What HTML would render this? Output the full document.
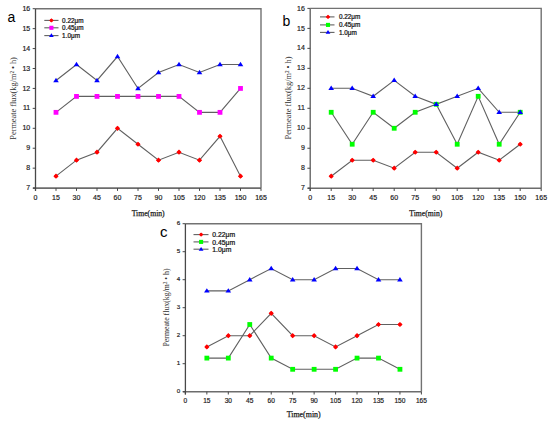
<!DOCTYPE html><html><head><meta charset="utf-8"><style>html,body{margin:0;padding:0;background:#fff;overflow:hidden;width:550px;height:422px;}svg{display:block;}</style></head><body>
<svg width="550" height="422" viewBox="0 0 550 422">
<rect width="550" height="422" fill="#fff"/>
<g font-family='"Liberation Sans", sans-serif' fill="#1a1a1a" stroke-width="0"><path d="M35.5 8.7H261V188.1" fill="none" stroke="#727272" stroke-width="1.4"/><path d="M33 188.1H261" stroke="#6c6c6c" stroke-width="1.6"/><path d="M35.5 8.7V190.9" stroke="#484848" stroke-width="1.3"/><path d="M35.5 188.1V190.9" stroke="#484848" stroke-width="1"/><path d="M56 188.1V190.9" stroke="#484848" stroke-width="1"/><path d="M76.5 188.1V190.9" stroke="#484848" stroke-width="1"/><path d="M97 188.1V190.9" stroke="#484848" stroke-width="1"/><path d="M117.5 188.1V190.9" stroke="#484848" stroke-width="1"/><path d="M138 188.1V190.9" stroke="#484848" stroke-width="1"/><path d="M158.5 188.1V190.9" stroke="#484848" stroke-width="1"/><path d="M179 188.1V190.9" stroke="#484848" stroke-width="1"/><path d="M199.5 188.1V190.9" stroke="#484848" stroke-width="1"/><path d="M220 188.1V190.9" stroke="#484848" stroke-width="1"/><path d="M240.5 188.1V190.9" stroke="#484848" stroke-width="1"/><path d="M261 188.1V190.9" stroke="#484848" stroke-width="1"/><path d="M32.7 188.1H35.5" stroke="#484848" stroke-width="1"/><path d="M32.7 168.17H35.5" stroke="#484848" stroke-width="1"/><path d="M32.7 148.23H35.5" stroke="#484848" stroke-width="1"/><path d="M32.7 128.3H35.5" stroke="#484848" stroke-width="1"/><path d="M32.7 108.37H35.5" stroke="#484848" stroke-width="1"/><path d="M32.7 88.43H35.5" stroke="#484848" stroke-width="1"/><path d="M32.7 68.5H35.5" stroke="#484848" stroke-width="1"/><path d="M32.7 48.57H35.5" stroke="#484848" stroke-width="1"/><path d="M32.7 28.63H35.5" stroke="#484848" stroke-width="1"/><path d="M32.7 8.7H35.5" stroke="#484848" stroke-width="1"/><text x="35.5" y="200.02" text-anchor="middle" font-size="7" stroke="#1a1a1a" stroke-width="0.18">0</text><text x="56" y="200.02" text-anchor="middle" font-size="7" stroke="#1a1a1a" stroke-width="0.18">15</text><text x="76.5" y="200.02" text-anchor="middle" font-size="7" stroke="#1a1a1a" stroke-width="0.18">30</text><text x="97" y="200.02" text-anchor="middle" font-size="7" stroke="#1a1a1a" stroke-width="0.18">45</text><text x="117.5" y="200.02" text-anchor="middle" font-size="7" stroke="#1a1a1a" stroke-width="0.18">60</text><text x="138" y="200.02" text-anchor="middle" font-size="7" stroke="#1a1a1a" stroke-width="0.18">75</text><text x="158.5" y="200.02" text-anchor="middle" font-size="7" stroke="#1a1a1a" stroke-width="0.18">90</text><text x="179" y="200.02" text-anchor="middle" font-size="7" stroke="#1a1a1a" stroke-width="0.18">105</text><text x="199.5" y="200.02" text-anchor="middle" font-size="7" stroke="#1a1a1a" stroke-width="0.18">120</text><text x="220" y="200.02" text-anchor="middle" font-size="7" stroke="#1a1a1a" stroke-width="0.18">135</text><text x="240.5" y="200.02" text-anchor="middle" font-size="7" stroke="#1a1a1a" stroke-width="0.18">150</text><text x="261" y="200.02" text-anchor="middle" font-size="7" stroke="#1a1a1a" stroke-width="0.18">165</text><text x="30.2" y="190.22" text-anchor="end" font-size="7" stroke="#1a1a1a" stroke-width="0.18">7</text><text x="30.2" y="170.29" text-anchor="end" font-size="7" stroke="#1a1a1a" stroke-width="0.18">8</text><text x="30.2" y="150.35" text-anchor="end" font-size="7" stroke="#1a1a1a" stroke-width="0.18">9</text><text x="30.2" y="130.42" text-anchor="end" font-size="7" stroke="#1a1a1a" stroke-width="0.18">10</text><text x="30.2" y="110.49" text-anchor="end" font-size="7" stroke="#1a1a1a" stroke-width="0.18">11</text><text x="30.2" y="90.55" text-anchor="end" font-size="7" stroke="#1a1a1a" stroke-width="0.18">12</text><text x="30.2" y="70.62" text-anchor="end" font-size="7" stroke="#1a1a1a" stroke-width="0.18">13</text><text x="30.2" y="50.69" text-anchor="end" font-size="7" stroke="#1a1a1a" stroke-width="0.18">14</text><text x="30.2" y="30.75" text-anchor="end" font-size="7" stroke="#1a1a1a" stroke-width="0.18">15</text><text x="30.2" y="10.82" text-anchor="end" font-size="7" stroke="#1a1a1a" stroke-width="0.18">16</text><polyline points="56,176.14 76.5,160.19 97,152.22 117.5,128.3 138,144.25 158.5,160.19 179,152.22 199.5,160.19 220,136.27 240.5,176.14" fill="none" stroke="#606060" stroke-width="1.1"/><polyline points="56,112.35 76.5,96.41 97,96.41 117.5,96.41 138,96.41 158.5,96.41 179,96.41 199.5,112.35 220,112.35 240.5,88.43" fill="none" stroke="#606060" stroke-width="1.1"/><polyline points="56,80.46 76.5,64.51 97,80.46 117.5,56.54 138,88.43 158.5,72.49 179,64.51 199.5,72.49 220,64.51 240.5,64.51" fill="none" stroke="#606060" stroke-width="1.1"/><path d="M56 173.54L58.6 176.14L56 178.74L53.4 176.14Z" fill="#ff0000"/><circle cx="56" cy="176.14" r="1.7" fill="#ff0000"/><path d="M76.5 157.59L79.1 160.19L76.5 162.79L73.9 160.19Z" fill="#ff0000"/><circle cx="76.5" cy="160.19" r="1.7" fill="#ff0000"/><path d="M97 149.62L99.6 152.22L97 154.82L94.4 152.22Z" fill="#ff0000"/><circle cx="97" cy="152.22" r="1.7" fill="#ff0000"/><path d="M117.5 125.7L120.1 128.3L117.5 130.9L114.9 128.3Z" fill="#ff0000"/><circle cx="117.5" cy="128.3" r="1.7" fill="#ff0000"/><path d="M138 141.65L140.6 144.25L138 146.85L135.4 144.25Z" fill="#ff0000"/><circle cx="138" cy="144.25" r="1.7" fill="#ff0000"/><path d="M158.5 157.59L161.1 160.19L158.5 162.79L155.9 160.19Z" fill="#ff0000"/><circle cx="158.5" cy="160.19" r="1.7" fill="#ff0000"/><path d="M179 149.62L181.6 152.22L179 154.82L176.4 152.22Z" fill="#ff0000"/><circle cx="179" cy="152.22" r="1.7" fill="#ff0000"/><path d="M199.5 157.59L202.1 160.19L199.5 162.79L196.9 160.19Z" fill="#ff0000"/><circle cx="199.5" cy="160.19" r="1.7" fill="#ff0000"/><path d="M220 133.67L222.6 136.27L220 138.87L217.4 136.27Z" fill="#ff0000"/><circle cx="220" cy="136.27" r="1.7" fill="#ff0000"/><path d="M240.5 173.54L243.1 176.14L240.5 178.74L237.9 176.14Z" fill="#ff0000"/><circle cx="240.5" cy="176.14" r="1.7" fill="#ff0000"/><rect x="53.6" y="109.95" width="4.8" height="4.8" fill="#ff00ff"/><rect x="74.1" y="94.01" width="4.8" height="4.8" fill="#ff00ff"/><rect x="94.6" y="94.01" width="4.8" height="4.8" fill="#ff00ff"/><rect x="115.1" y="94.01" width="4.8" height="4.8" fill="#ff00ff"/><rect x="135.6" y="94.01" width="4.8" height="4.8" fill="#ff00ff"/><rect x="156.1" y="94.01" width="4.8" height="4.8" fill="#ff00ff"/><rect x="176.6" y="94.01" width="4.8" height="4.8" fill="#ff00ff"/><rect x="197.1" y="109.95" width="4.8" height="4.8" fill="#ff00ff"/><rect x="217.6" y="109.95" width="4.8" height="4.8" fill="#ff00ff"/><rect x="238.1" y="86.03" width="4.8" height="4.8" fill="#ff00ff"/><path d="M56 77.76L58.8 82.16L53.2 82.16Z" fill="#0000ff"/><path d="M76.5 61.81L79.3 66.21L73.7 66.21Z" fill="#0000ff"/><path d="M97 77.76L99.8 82.16L94.2 82.16Z" fill="#0000ff"/><path d="M117.5 53.84L120.3 58.24L114.7 58.24Z" fill="#0000ff"/><path d="M138 85.73L140.8 90.13L135.2 90.13Z" fill="#0000ff"/><path d="M158.5 69.79L161.3 74.19L155.7 74.19Z" fill="#0000ff"/><path d="M179 61.81L181.8 66.21L176.2 66.21Z" fill="#0000ff"/><path d="M199.5 69.79L202.3 74.19L196.7 74.19Z" fill="#0000ff"/><path d="M220 61.81L222.8 66.21L217.2 66.21Z" fill="#0000ff"/><path d="M240.5 61.81L243.3 66.21L237.7 66.21Z" fill="#0000ff"/><path d="M44.3 20.4H58.5" stroke="#606060" stroke-width="1.1"/><path d="M51.4 18.19L53.61 20.4L51.4 22.61L49.19 20.4Z" fill="#ff0000"/><circle cx="51.4" cy="20.4" r="1.44" fill="#ff0000"/><text x="62.1" y="22.7" font-size="6.4" fill="#101010" stroke="#101010" stroke-width="0.22">0.22μm</text><path d="M44.3 27.8H58.5" stroke="#606060" stroke-width="1.1"/><rect x="49.36" y="25.76" width="4.08" height="4.08" fill="#ff00ff"/><text x="62.1" y="30.1" font-size="6.4" fill="#101010" stroke="#101010" stroke-width="0.22">0.45μm</text><path d="M44.3 35.6H58.5" stroke="#606060" stroke-width="1.1"/><path d="M51.4 33.3L53.78 37.05L49.02 37.05Z" fill="#0000ff"/><text x="62.1" y="37.9" font-size="6.4" fill="#101010" stroke="#101010" stroke-width="0.22">1.0μm</text><text x="7.6" y="21.5" font-size="14" fill="#000">a</text><text x="148.2" y="216" text-anchor="middle" font-family='"Liberation Serif", serif' font-size="8.2" stroke="#1a1a1a" stroke-width="0.25" textLength="33" lengthAdjust="spacingAndGlyphs">Time(min)</text><text transform="translate(13.6 98.4) rotate(-90)" text-anchor="middle" font-family='"Liberation Serif", serif' font-size="7.9" textLength="82.5" lengthAdjust="spacingAndGlyphs" y="2.61" fill="#303030">Permeate flux(kg/m² • h)</text></g>
<g font-family='"Liberation Sans", sans-serif' fill="#1a1a1a" stroke-width="0"><path d="M310.2 8.4H541.2V188.2" fill="none" stroke="#727272" stroke-width="1.4"/><path d="M307.7 188.2H541.2" stroke="#6c6c6c" stroke-width="1.6"/><path d="M310.2 8.4V191" stroke="#5c5c5c" stroke-width="1.3"/><path d="M310.2 188.2V191" stroke="#484848" stroke-width="1"/><path d="M331.2 188.2V191" stroke="#484848" stroke-width="1"/><path d="M352.2 188.2V191" stroke="#484848" stroke-width="1"/><path d="M373.2 188.2V191" stroke="#484848" stroke-width="1"/><path d="M394.2 188.2V191" stroke="#484848" stroke-width="1"/><path d="M415.2 188.2V191" stroke="#484848" stroke-width="1"/><path d="M436.2 188.2V191" stroke="#484848" stroke-width="1"/><path d="M457.2 188.2V191" stroke="#484848" stroke-width="1"/><path d="M478.2 188.2V191" stroke="#484848" stroke-width="1"/><path d="M499.2 188.2V191" stroke="#484848" stroke-width="1"/><path d="M520.2 188.2V191" stroke="#484848" stroke-width="1"/><path d="M541.2 188.2V191" stroke="#484848" stroke-width="1"/><path d="M307.4 188.2H310.2" stroke="#484848" stroke-width="1"/><path d="M307.4 168.22H310.2" stroke="#484848" stroke-width="1"/><path d="M307.4 148.24H310.2" stroke="#484848" stroke-width="1"/><path d="M307.4 128.27H310.2" stroke="#484848" stroke-width="1"/><path d="M307.4 108.29H310.2" stroke="#484848" stroke-width="1"/><path d="M307.4 88.31H310.2" stroke="#484848" stroke-width="1"/><path d="M307.4 68.33H310.2" stroke="#484848" stroke-width="1"/><path d="M307.4 48.36H310.2" stroke="#484848" stroke-width="1"/><path d="M307.4 28.38H310.2" stroke="#484848" stroke-width="1"/><path d="M307.4 8.4H310.2" stroke="#484848" stroke-width="1"/><text x="310.2" y="200.22" text-anchor="middle" font-size="7" stroke="#1a1a1a" stroke-width="0.18">0</text><text x="331.2" y="200.22" text-anchor="middle" font-size="7" stroke="#1a1a1a" stroke-width="0.18">15</text><text x="352.2" y="200.22" text-anchor="middle" font-size="7" stroke="#1a1a1a" stroke-width="0.18">30</text><text x="373.2" y="200.22" text-anchor="middle" font-size="7" stroke="#1a1a1a" stroke-width="0.18">45</text><text x="394.2" y="200.22" text-anchor="middle" font-size="7" stroke="#1a1a1a" stroke-width="0.18">60</text><text x="415.2" y="200.22" text-anchor="middle" font-size="7" stroke="#1a1a1a" stroke-width="0.18">75</text><text x="436.2" y="200.22" text-anchor="middle" font-size="7" stroke="#1a1a1a" stroke-width="0.18">90</text><text x="457.2" y="200.22" text-anchor="middle" font-size="7" stroke="#1a1a1a" stroke-width="0.18">105</text><text x="478.2" y="200.22" text-anchor="middle" font-size="7" stroke="#1a1a1a" stroke-width="0.18">120</text><text x="499.2" y="200.22" text-anchor="middle" font-size="7" stroke="#1a1a1a" stroke-width="0.18">135</text><text x="520.2" y="200.22" text-anchor="middle" font-size="7" stroke="#1a1a1a" stroke-width="0.18">150</text><text x="541.2" y="200.22" text-anchor="middle" font-size="7" stroke="#1a1a1a" stroke-width="0.18">165</text><text x="304.9" y="190.32" text-anchor="end" font-size="7" stroke="#1a1a1a" stroke-width="0.18">7</text><text x="304.9" y="170.34" text-anchor="end" font-size="7" stroke="#1a1a1a" stroke-width="0.18">8</text><text x="304.9" y="150.36" text-anchor="end" font-size="7" stroke="#1a1a1a" stroke-width="0.18">9</text><text x="304.9" y="130.39" text-anchor="end" font-size="7" stroke="#1a1a1a" stroke-width="0.18">10</text><text x="304.9" y="110.41" text-anchor="end" font-size="7" stroke="#1a1a1a" stroke-width="0.18">11</text><text x="304.9" y="90.43" text-anchor="end" font-size="7" stroke="#1a1a1a" stroke-width="0.18">12</text><text x="304.9" y="70.45" text-anchor="end" font-size="7" stroke="#1a1a1a" stroke-width="0.18">13</text><text x="304.9" y="50.48" text-anchor="end" font-size="7" stroke="#1a1a1a" stroke-width="0.18">14</text><text x="304.9" y="30.5" text-anchor="end" font-size="7" stroke="#1a1a1a" stroke-width="0.18">15</text><text x="304.9" y="10.52" text-anchor="end" font-size="7" stroke="#1a1a1a" stroke-width="0.18">16</text><polyline points="331.2,176.21 352.2,160.23 373.2,160.23 394.2,168.22 415.2,152.24 436.2,152.24 457.2,168.22 478.2,152.24 499.2,160.23 520.2,144.25" fill="none" stroke="#606060" stroke-width="1.1"/><polyline points="331.2,112.28 352.2,144.25 373.2,112.28 394.2,128.27 415.2,112.28 436.2,104.29 457.2,144.25 478.2,96.3 499.2,144.25 520.2,112.28" fill="none" stroke="#606060" stroke-width="1.1"/><polyline points="331.2,88.31 352.2,88.31 373.2,96.3 394.2,80.32 415.2,96.3 436.2,104.29 457.2,96.3 478.2,88.31 499.2,112.28 520.2,112.28" fill="none" stroke="#606060" stroke-width="1.1"/><path d="M331.2 173.61L333.8 176.21L331.2 178.81L328.6 176.21Z" fill="#ff0000"/><circle cx="331.2" cy="176.21" r="1.7" fill="#ff0000"/><path d="M352.2 157.63L354.8 160.23L352.2 162.83L349.6 160.23Z" fill="#ff0000"/><circle cx="352.2" cy="160.23" r="1.7" fill="#ff0000"/><path d="M373.2 157.63L375.8 160.23L373.2 162.83L370.6 160.23Z" fill="#ff0000"/><circle cx="373.2" cy="160.23" r="1.7" fill="#ff0000"/><path d="M394.2 165.62L396.8 168.22L394.2 170.82L391.6 168.22Z" fill="#ff0000"/><circle cx="394.2" cy="168.22" r="1.7" fill="#ff0000"/><path d="M415.2 149.64L417.8 152.24L415.2 154.84L412.6 152.24Z" fill="#ff0000"/><circle cx="415.2" cy="152.24" r="1.7" fill="#ff0000"/><path d="M436.2 149.64L438.8 152.24L436.2 154.84L433.6 152.24Z" fill="#ff0000"/><circle cx="436.2" cy="152.24" r="1.7" fill="#ff0000"/><path d="M457.2 165.62L459.8 168.22L457.2 170.82L454.6 168.22Z" fill="#ff0000"/><circle cx="457.2" cy="168.22" r="1.7" fill="#ff0000"/><path d="M478.2 149.64L480.8 152.24L478.2 154.84L475.6 152.24Z" fill="#ff0000"/><circle cx="478.2" cy="152.24" r="1.7" fill="#ff0000"/><path d="M499.2 157.63L501.8 160.23L499.2 162.83L496.6 160.23Z" fill="#ff0000"/><circle cx="499.2" cy="160.23" r="1.7" fill="#ff0000"/><path d="M520.2 141.65L522.8 144.25L520.2 146.85L517.6 144.25Z" fill="#ff0000"/><circle cx="520.2" cy="144.25" r="1.7" fill="#ff0000"/><rect x="328.8" y="109.88" width="4.8" height="4.8" fill="#00ff00"/><rect x="349.8" y="141.85" width="4.8" height="4.8" fill="#00ff00"/><rect x="370.8" y="109.88" width="4.8" height="4.8" fill="#00ff00"/><rect x="391.8" y="125.87" width="4.8" height="4.8" fill="#00ff00"/><rect x="412.8" y="109.88" width="4.8" height="4.8" fill="#00ff00"/><rect x="433.8" y="101.89" width="4.8" height="4.8" fill="#00ff00"/><rect x="454.8" y="141.85" width="4.8" height="4.8" fill="#00ff00"/><rect x="475.8" y="93.9" width="4.8" height="4.8" fill="#00ff00"/><rect x="496.8" y="141.85" width="4.8" height="4.8" fill="#00ff00"/><rect x="517.8" y="109.88" width="4.8" height="4.8" fill="#00ff00"/><path d="M331.2 85.61L334 90.01L328.4 90.01Z" fill="#0000ff"/><path d="M352.2 85.61L355 90.01L349.4 90.01Z" fill="#0000ff"/><path d="M373.2 93.6L376 98L370.4 98Z" fill="#0000ff"/><path d="M394.2 77.62L397 82.02L391.4 82.02Z" fill="#0000ff"/><path d="M415.2 93.6L418 98L412.4 98Z" fill="#0000ff"/><path d="M436.2 101.59L439 105.99L433.4 105.99Z" fill="#0000ff"/><path d="M457.2 93.6L460 98L454.4 98Z" fill="#0000ff"/><path d="M478.2 85.61L481 90.01L475.4 90.01Z" fill="#0000ff"/><path d="M499.2 109.58L502 113.98L496.4 113.98Z" fill="#0000ff"/><path d="M520.2 109.58L523 113.98L517.4 113.98Z" fill="#0000ff"/><path d="M320 16.9H334.5" stroke="#606060" stroke-width="1.1"/><path d="M328 14.69L330.21 16.9L328 19.11L325.79 16.9Z" fill="#ff0000"/><circle cx="328" cy="16.9" r="1.44" fill="#ff0000"/><text x="338.9" y="19.2" font-size="6.4" fill="#101010" stroke="#101010" stroke-width="0.22">0.22μm</text><path d="M320 24.9H334.5" stroke="#606060" stroke-width="1.1"/><rect x="325.96" y="22.86" width="4.08" height="4.08" fill="#00ff00"/><text x="338.9" y="27.2" font-size="6.4" fill="#101010" stroke="#101010" stroke-width="0.22">0.45μm</text><path d="M320 32.4H334.5" stroke="#606060" stroke-width="1.1"/><path d="M328 30.1L330.38 33.84L325.62 33.84Z" fill="#0000ff"/><text x="338.9" y="34.7" font-size="6.4" fill="#101010" stroke="#101010" stroke-width="0.22">1.0μm</text><text x="282.6" y="25.6" font-size="14" fill="#000">b</text><text x="425.8" y="216" text-anchor="middle" font-family='"Liberation Serif", serif' font-size="8.2" stroke="#1a1a1a" stroke-width="0.25" textLength="33" lengthAdjust="spacingAndGlyphs">Time(min)</text><text transform="translate(288.3 98) rotate(-90)" text-anchor="middle" font-family='"Liberation Serif", serif' font-size="7.9" textLength="83" lengthAdjust="spacingAndGlyphs" y="2.61" fill="#303030">Permeate flux(kg/m² • h)</text></g>
<g font-family='"Liberation Sans", sans-serif' fill="#1a1a1a" stroke-width="0"><path d="M185.4 223.7H421.4V391.7" fill="none" stroke="#727272" stroke-width="1.4"/><path d="M182.9 391.7H421.4" stroke="#6c6c6c" stroke-width="1.6"/><path d="M185.4 223.7V394.5" stroke="#484848" stroke-width="1.3"/><path d="M185.4 391.7V394.5" stroke="#484848" stroke-width="1"/><path d="M206.85 391.7V394.5" stroke="#484848" stroke-width="1"/><path d="M228.31 391.7V394.5" stroke="#484848" stroke-width="1"/><path d="M249.76 391.7V394.5" stroke="#484848" stroke-width="1"/><path d="M271.22 391.7V394.5" stroke="#484848" stroke-width="1"/><path d="M292.67 391.7V394.5" stroke="#484848" stroke-width="1"/><path d="M314.13 391.7V394.5" stroke="#484848" stroke-width="1"/><path d="M335.58 391.7V394.5" stroke="#484848" stroke-width="1"/><path d="M357.04 391.7V394.5" stroke="#484848" stroke-width="1"/><path d="M378.49 391.7V394.5" stroke="#484848" stroke-width="1"/><path d="M399.95 391.7V394.5" stroke="#484848" stroke-width="1"/><path d="M421.4 391.7V394.5" stroke="#484848" stroke-width="1"/><path d="M182.6 391.7H185.4" stroke="#484848" stroke-width="1"/><path d="M182.6 363.7H185.4" stroke="#484848" stroke-width="1"/><path d="M182.6 335.7H185.4" stroke="#484848" stroke-width="1"/><path d="M182.6 307.7H185.4" stroke="#484848" stroke-width="1"/><path d="M182.6 279.7H185.4" stroke="#484848" stroke-width="1"/><path d="M182.6 251.7H185.4" stroke="#484848" stroke-width="1"/><path d="M182.6 223.7H185.4" stroke="#484848" stroke-width="1"/><text x="185.4" y="402.88" text-anchor="middle" font-size="6.6" stroke="#1a1a1a" stroke-width="0.18">0</text><text x="206.85" y="402.88" text-anchor="middle" font-size="6.6" stroke="#1a1a1a" stroke-width="0.18">15</text><text x="228.31" y="402.88" text-anchor="middle" font-size="6.6" stroke="#1a1a1a" stroke-width="0.18">30</text><text x="249.76" y="402.88" text-anchor="middle" font-size="6.6" stroke="#1a1a1a" stroke-width="0.18">45</text><text x="271.22" y="402.88" text-anchor="middle" font-size="6.6" stroke="#1a1a1a" stroke-width="0.18">60</text><text x="292.67" y="402.88" text-anchor="middle" font-size="6.6" stroke="#1a1a1a" stroke-width="0.18">75</text><text x="314.13" y="402.88" text-anchor="middle" font-size="6.6" stroke="#1a1a1a" stroke-width="0.18">90</text><text x="335.58" y="402.88" text-anchor="middle" font-size="6.6" stroke="#1a1a1a" stroke-width="0.18">105</text><text x="357.04" y="402.88" text-anchor="middle" font-size="6.6" stroke="#1a1a1a" stroke-width="0.18">120</text><text x="378.49" y="402.88" text-anchor="middle" font-size="6.6" stroke="#1a1a1a" stroke-width="0.18">135</text><text x="399.95" y="402.88" text-anchor="middle" font-size="6.6" stroke="#1a1a1a" stroke-width="0.18">150</text><text x="421.4" y="402.88" text-anchor="middle" font-size="6.6" stroke="#1a1a1a" stroke-width="0.18">165</text><text x="180.1" y="393.18" text-anchor="end" font-size="6.2" stroke="#1a1a1a" stroke-width="0.18">0</text><text x="180.1" y="365.18" text-anchor="end" font-size="6.2" stroke="#1a1a1a" stroke-width="0.18">1</text><text x="180.1" y="337.18" text-anchor="end" font-size="6.2" stroke="#1a1a1a" stroke-width="0.18">2</text><text x="180.1" y="309.18" text-anchor="end" font-size="6.2" stroke="#1a1a1a" stroke-width="0.18">3</text><text x="180.1" y="281.18" text-anchor="end" font-size="6.2" stroke="#1a1a1a" stroke-width="0.18">4</text><text x="180.1" y="253.18" text-anchor="end" font-size="6.2" stroke="#1a1a1a" stroke-width="0.18">5</text><text x="180.1" y="225.18" text-anchor="end" font-size="6.2" stroke="#1a1a1a" stroke-width="0.18">6</text><polyline points="206.85,346.9 228.31,335.7 249.76,335.7 271.22,313.3 292.67,335.7 314.13,335.7 335.58,346.9 357.04,335.7 378.49,324.5 399.95,324.5" fill="none" stroke="#606060" stroke-width="1.1"/><polyline points="206.85,358.1 228.31,358.1 249.76,324.5 271.22,358.1 292.67,369.3 314.13,369.3 335.58,369.3 357.04,358.1 378.49,358.1 399.95,369.3" fill="none" stroke="#606060" stroke-width="1.1"/><polyline points="206.85,290.9 228.31,290.9 249.76,279.7 271.22,268.5 292.67,279.7 314.13,279.7 335.58,268.5 357.04,268.5 378.49,279.7 399.95,279.7" fill="none" stroke="#606060" stroke-width="1.1"/><path d="M206.85 344.3L209.45 346.9L206.85 349.5L204.25 346.9Z" fill="#ff0000"/><circle cx="206.85" cy="346.9" r="1.7" fill="#ff0000"/><path d="M228.31 333.1L230.91 335.7L228.31 338.3L225.71 335.7Z" fill="#ff0000"/><circle cx="228.31" cy="335.7" r="1.7" fill="#ff0000"/><path d="M249.76 333.1L252.36 335.7L249.76 338.3L247.16 335.7Z" fill="#ff0000"/><circle cx="249.76" cy="335.7" r="1.7" fill="#ff0000"/><path d="M271.22 310.7L273.82 313.3L271.22 315.9L268.62 313.3Z" fill="#ff0000"/><circle cx="271.22" cy="313.3" r="1.7" fill="#ff0000"/><path d="M292.67 333.1L295.27 335.7L292.67 338.3L290.07 335.7Z" fill="#ff0000"/><circle cx="292.67" cy="335.7" r="1.7" fill="#ff0000"/><path d="M314.13 333.1L316.73 335.7L314.13 338.3L311.53 335.7Z" fill="#ff0000"/><circle cx="314.13" cy="335.7" r="1.7" fill="#ff0000"/><path d="M335.58 344.3L338.18 346.9L335.58 349.5L332.98 346.9Z" fill="#ff0000"/><circle cx="335.58" cy="346.9" r="1.7" fill="#ff0000"/><path d="M357.04 333.1L359.64 335.7L357.04 338.3L354.44 335.7Z" fill="#ff0000"/><circle cx="357.04" cy="335.7" r="1.7" fill="#ff0000"/><path d="M378.49 321.9L381.09 324.5L378.49 327.1L375.89 324.5Z" fill="#ff0000"/><circle cx="378.49" cy="324.5" r="1.7" fill="#ff0000"/><path d="M399.95 321.9L402.55 324.5L399.95 327.1L397.35 324.5Z" fill="#ff0000"/><circle cx="399.95" cy="324.5" r="1.7" fill="#ff0000"/><rect x="204.45" y="355.7" width="4.8" height="4.8" fill="#00ff00"/><rect x="225.91" y="355.7" width="4.8" height="4.8" fill="#00ff00"/><rect x="247.36" y="322.1" width="4.8" height="4.8" fill="#00ff00"/><rect x="268.82" y="355.7" width="4.8" height="4.8" fill="#00ff00"/><rect x="290.27" y="366.9" width="4.8" height="4.8" fill="#00ff00"/><rect x="311.73" y="366.9" width="4.8" height="4.8" fill="#00ff00"/><rect x="333.18" y="366.9" width="4.8" height="4.8" fill="#00ff00"/><rect x="354.64" y="355.7" width="4.8" height="4.8" fill="#00ff00"/><rect x="376.09" y="355.7" width="4.8" height="4.8" fill="#00ff00"/><rect x="397.55" y="366.9" width="4.8" height="4.8" fill="#00ff00"/><path d="M206.85 288.2L209.65 292.6L204.05 292.6Z" fill="#0000ff"/><path d="M228.31 288.2L231.11 292.6L225.51 292.6Z" fill="#0000ff"/><path d="M249.76 277L252.56 281.4L246.96 281.4Z" fill="#0000ff"/><path d="M271.22 265.8L274.02 270.2L268.42 270.2Z" fill="#0000ff"/><path d="M292.67 277L295.47 281.4L289.87 281.4Z" fill="#0000ff"/><path d="M314.13 277L316.93 281.4L311.33 281.4Z" fill="#0000ff"/><path d="M335.58 265.8L338.38 270.2L332.78 270.2Z" fill="#0000ff"/><path d="M357.04 265.8L359.84 270.2L354.24 270.2Z" fill="#0000ff"/><path d="M378.49 277L381.29 281.4L375.69 281.4Z" fill="#0000ff"/><path d="M399.95 277L402.75 281.4L397.15 281.4Z" fill="#0000ff"/><path d="M193.5 234.6H208.5" stroke="#606060" stroke-width="1.1"/><path d="M201.1 232.39L203.31 234.6L201.1 236.81L198.89 234.6Z" fill="#ff0000"/><circle cx="201.1" cy="234.6" r="1.44" fill="#ff0000"/><text x="212.3" y="237.45" font-size="6.8" fill="#101010" stroke="#101010" stroke-width="0.22">0.22μm</text><path d="M193.5 241.9H208.5" stroke="#606060" stroke-width="1.1"/><rect x="199.06" y="239.86" width="4.08" height="4.08" fill="#00ff00"/><text x="212.3" y="244.75" font-size="6.8" fill="#101010" stroke="#101010" stroke-width="0.22">0.45μm</text><path d="M193.5 249.2H208.5" stroke="#606060" stroke-width="1.1"/><path d="M201.1 246.91L203.48 250.64L198.72 250.64Z" fill="#0000ff"/><text x="212.3" y="252.05" font-size="6.8" fill="#101010" stroke="#101010" stroke-width="0.22">1.0μm</text><text x="159.9" y="237" font-size="15" fill="#000">c</text><text x="303.7" y="416.7" text-anchor="middle" font-family='"Liberation Serif", serif' font-size="8.2" stroke="#1a1a1a" stroke-width="0.25" textLength="34" lengthAdjust="spacingAndGlyphs">Time(min)</text><text transform="translate(165.9 307.5) rotate(-90)" text-anchor="middle" font-family='"Liberation Serif", serif' font-size="7.9" textLength="78" lengthAdjust="spacingAndGlyphs" y="2.61" fill="#303030">Permeate flux(kg/m² • h)</text></g>
</svg></body></html>
